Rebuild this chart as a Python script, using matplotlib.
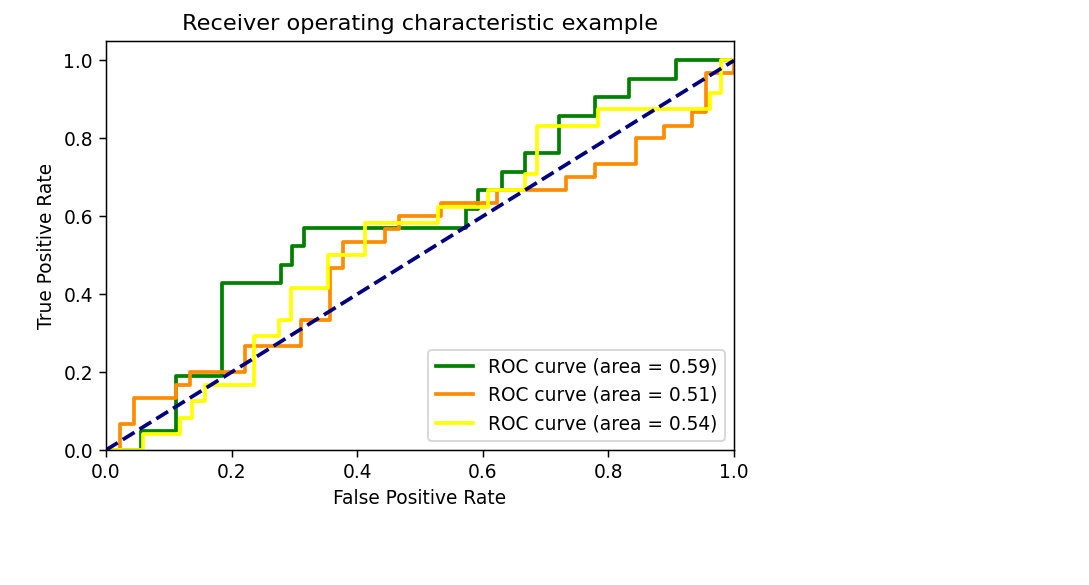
import numpy as np
import matplotlib
matplotlib.use("Agg")
import matplotlib.pyplot as plt

# ROC curve corner points
fpr_green = [0, 0.056, 0.056, 0.111, 0.111, 0.185, 0.185, 0.278, 0.278, 0.296, 0.296,
             0.315, 0.315, 0.574, 0.574, 0.593, 0.593, 0.630, 0.630, 0.667, 0.667,
             0.722, 0.722, 0.778, 0.778, 0.833, 0.833, 0.907, 0.907, 1.0]
tpr_green = [0, 0, 0.048, 0.048, 0.190, 0.190, 0.429, 0.429, 0.476, 0.476, 0.524,
             0.524, 0.571, 0.571, 0.619, 0.619, 0.667, 0.667, 0.714, 0.714, 0.762,
             0.762, 0.857, 0.857, 0.905, 0.905, 0.952, 0.952, 1.0, 1.0]

fpr_orange = [0, 0.022, 0.022, 0.044, 0.044, 0.111, 0.111, 0.133, 0.133, 0.222, 0.222,
              0.311, 0.311, 0.356, 0.356, 0.378, 0.378, 0.444, 0.444, 0.467, 0.467,
              0.533, 0.533, 0.622, 0.622, 0.733, 0.733, 0.778, 0.778, 0.844, 0.844,
              0.889, 0.889, 0.933, 0.933, 0.956, 0.956, 1.0, 1.0]
tpr_orange = [0, 0, 0.067, 0.067, 0.133, 0.133, 0.167, 0.167, 0.200, 0.200, 0.267,
              0.267, 0.333, 0.333, 0.467, 0.467, 0.533, 0.533, 0.567, 0.567, 0.600,
              0.600, 0.633, 0.633, 0.667, 0.667, 0.700, 0.700, 0.733, 0.733, 0.800,
              0.800, 0.833, 0.833, 0.867, 0.867, 0.967, 0.967, 1.0]

fpr_yellow = [0, 0.059, 0.059, 0.118, 0.118, 0.137, 0.137, 0.157, 0.157, 0.235, 0.235,
              0.275, 0.275, 0.294, 0.294, 0.353, 0.353, 0.412, 0.412, 0.529, 0.529,
              0.608, 0.608, 0.667, 0.667, 0.686, 0.686, 0.784, 0.784, 0.961, 0.961,
              0.980, 0.980, 1.0]
tpr_yellow = [0, 0, 0.042, 0.042, 0.083, 0.083, 0.125, 0.125, 0.167, 0.167, 0.292,
              0.292, 0.333, 0.333, 0.417, 0.417, 0.500, 0.500, 0.583, 0.583, 0.625,
              0.625, 0.667, 0.667, 0.708, 0.708, 0.833, 0.833, 0.875, 0.875, 0.917,
              0.917, 1.0, 1.0]

areas = [0.59, 0.51, 0.54]
colors = ['green', 'darkorange', 'yellow']

# figure sized so default fonts match the reference scale
dpi = 134
fig = plt.figure(figsize=(1089 / dpi, 585 / dpi), dpi=dpi)
ax = fig.add_axes([106 / 1089, 135 / 585, 628 / 1089, 409 / 585])

curves = [(fpr_green, tpr_green), (fpr_orange, tpr_orange), (fpr_yellow, tpr_yellow)]
for (fpr, tpr), area, c in zip(curves, areas, colors):
    ax.plot(fpr, tpr, color=c, lw=2, label='ROC curve (area = %0.2f)' % area)

ax.plot([0, 1], [0, 1], color='navy', lw=2, linestyle='--')
ax.set_xlim([0.0, 1.0])
ax.set_ylim([0.0, 1.05])
ax.set_xlabel('False Positive Rate')
ax.set_ylabel('True Positive Rate')
ax.set_title('Receiver operating characteristic example')
ax.legend(loc="lower right")

fig.savefig('out.png', dpi=dpi)
